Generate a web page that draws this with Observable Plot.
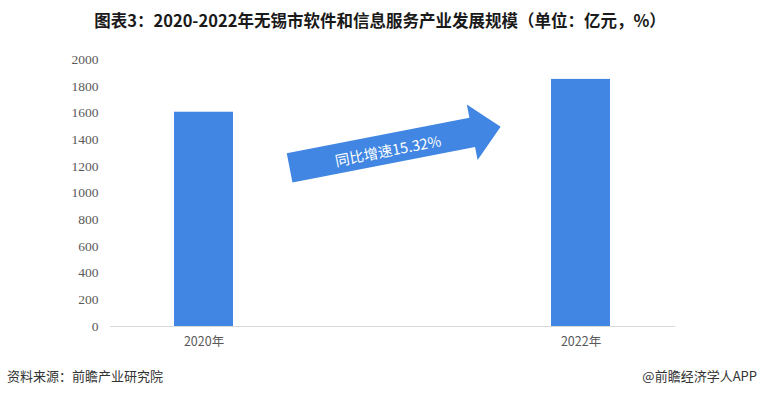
<!DOCTYPE html>
<html>
<head>
<meta charset="utf-8">
<script src="https://cdn.jsdelivr.net/npm/d3@7"></script>
<script src="https://cdn.jsdelivr.net/npm/@observablehq/plot@0.6"></script>
<style>
  html, body { margin: 0; padding: 0; background: #fff; }
  #wrap { position: relative; width: 760px; height: 395px; overflow: hidden; }
  #title { position: absolute; left: 0; top: 0; width: 760px; height: 40px; line-height: 40px; text-align: center;
    font-family: "Noto Sans CJK SC", "Noto Sans", sans-serif; font-weight: bold; font-size: 16.5px; color: #1a1a1a; }
  #chart { position: absolute; left: 0; top: 40px; }
  #src { position: absolute; left: 7px; top: 366px; height: 20px; line-height: 20px;
    font-family: "Noto Sans CJK SC", sans-serif; font-size: 13px; color: #333; }
  #brand { position: absolute; right: 3px; top: 366px; height: 20px; line-height: 20px;
    font-family: "Noto Sans CJK SC", sans-serif; font-size: 13px; color: #333; }
</style>
</head>
<body>
<div id="wrap">
  <div id="title">图表3：2020-2022年无锡市软件和信息服务产业发展规模（单位：亿元，%）</div>
  <div id="chart"></div>
  <div id="src">资料来源：前瞻产业研究院</div>
  <div id="brand">@前瞻经济学人APP</div>
</div>
<script>
const years = ["2020年", "2022年"];
const values = [1605, 1851];
const yTicks = [0, 200, 400, 600, 800, 1000, 1200, 1400, 1600, 1800, 2000];
const growthLabel = "同比增速15.32%";
const arrowStartValue = 1185;

const data = years.map((y, i) => ({year: y, value: values[i]}));
const barColor = "#4086e2";

function arrowMark(index, scales, values_, dimensions) {
  const x = scales.x, y = scales.y;
  const bw = x.bandwidth();
  const left = x(years[0]) + bw;
  const right = x(years[1]);
  const gap = right - left;
  const x0 = left + gap * 0.178;
  const y0 = y(arrowStartValue);
  const shaftLen = gap * 0.585, tipLen = gap * 0.676;
  const half = 14.9, headHalf = 28.3;
  const angle = -11;
  const g = d3.create("svg:g").attr("transform", `translate(${x0},${y0}) rotate(${angle})`);
  g.append("polygon")
    .attr("points", [[0, -half], [shaftLen, -half], [shaftLen, -headHalf], [tipLen, 0], [shaftLen, headHalf], [shaftLen, half], [0, half]].map(p => p.join(",")).join(" "))
    .attr("fill", barColor);
  g.append("text")
    .attr("x", gap * 0.314).attr("y", 1)
    .attr("text-anchor", "middle").attr("dominant-baseline", "central")
    .attr("fill", "#fff")
    .attr("font-family", '"Noto Sans CJK SC", sans-serif')
    .attr("font-size", 14.5)
    .text(growthLabel);
  return g.node();
}

const chart = Plot.plot({
  width: 760,
  height: 326,
  marginLeft: 110,
  marginRight: 85,
  marginTop: 19,
  marginBottom: 40,
  style: {background: "transparent", overflow: "visible"},
  x: {domain: years, paddingInner: 0.843, paddingOuter: 0.17, label: null},
  y: {domain: [0, 2000], label: null},
  marks: [
    Plot.barY(data, {x: "year", y: "value", fill: barColor}),
    Plot.ruleY([0], {stroke: "#d9d9d9", strokeWidth: 1}),
    Plot.axisY({ticks: yTicks, tickFormat: d3.format("d"), tickSize: 0, tickPadding: 12, label: null,
      fontSize: 13.5, fill: "#595959"}),
    Plot.axisX({tickSize: 0, tickPadding: 11, label: null,
      fontFamily: '"Noto Sans CJK SC", sans-serif', fontSize: 12.5, fill: "#595959"}),
    arrowMark
  ]
});
d3.select(chart).selectAll('g[aria-label="y-axis tick label"], g[aria-label="y-axis tick label"] text')
  .style("font-family", '"Liberation Serif", "DejaVu Serif", serif');
document.getElementById("chart").appendChild(chart);
</script>
</body>
</html>
